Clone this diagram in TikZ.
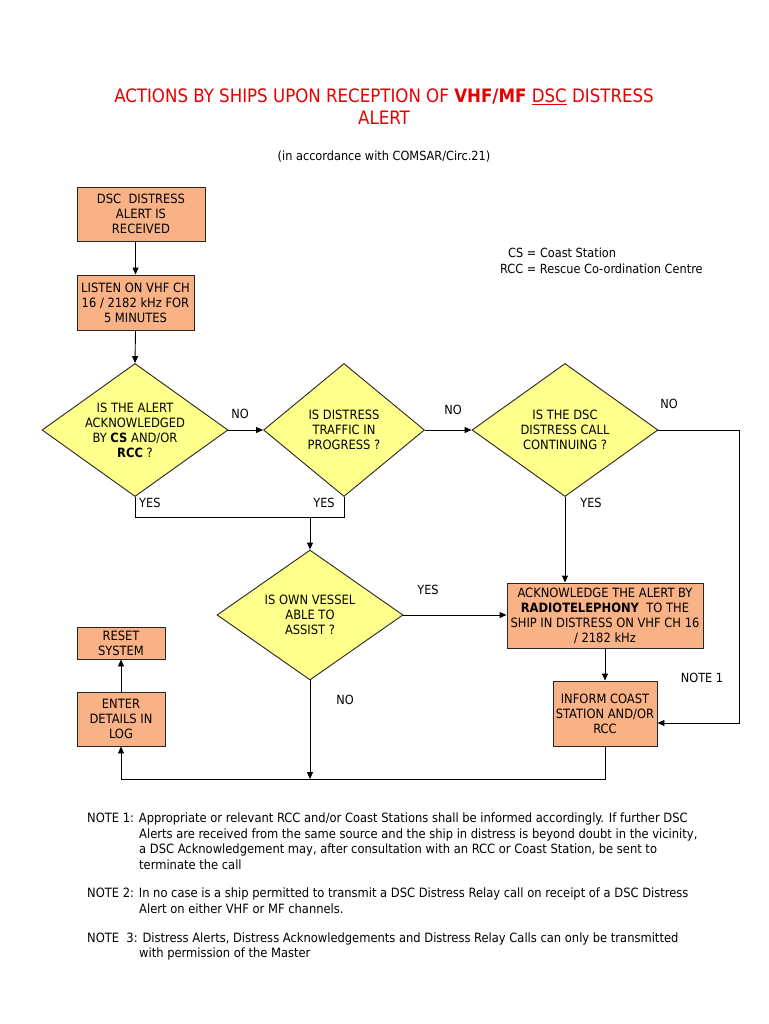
\documentclass[tikz,border=0pt]{standalone}
\usepackage{fontspec}
\setmainfont{DejaVu Sans Condensed}
\usetikzlibrary{shapes.geometric,arrows.meta}
\definecolor{boxfill}{RGB}{248,178,134}
\definecolor{dfill}{RGB}{255,255,140}
\definecolor{titlered}{RGB}{232,0,0}
\begin{document}
\begin{tikzpicture}[x=1pt,y=-1pt,
  proc/.style={draw=black!85, fill=boxfill, line width=0.9pt, align=center, inner sep=0pt,
    font=\fontsize{12.8}{15}\selectfont},
  dec/.style={draw=black!85, fill=dfill, line width=0.9pt, diamond, aspect=1.4, inner sep=0pt},
  dtxt/.style={inner sep=0pt, align=center, font=\fontsize{12.8}{15}\selectfont},
  lbl/.style={inner sep=0pt, font=\fontsize{12.6}{14}\selectfont},
  notetxt/.style={inner sep=0pt, anchor=base west, font=\fontsize{12.8}{14}\selectfont},
  conn/.style={line width=0.9pt, black},
  arr/.style={conn, -{Triangle[length=7pt,width=6pt]}}
]
\useasboundingbox[fill=white] (0,0) rectangle (768,1024);

% title
\node[inner sep=0pt, align=center, text=titlered, font=\fontsize{18.5}{22}\selectfont] (title) at (384,107)
  {ACTIONS BY SHIPS UPON RECEPTION OF \textbf{VHF/MF} \underline{DSC} DISTRESS\\ALERT};
\node[lbl] (sub) at (384,157) {(in accordance with COMSAR/Circ.21)};

% legend
\node[lbl, anchor=base west] (leg1) at (508,258) {CS = Coast Station};
\node[lbl, anchor=base west] (leg2) at (500,273) {RCC = Rescue Co-ordination Centre};

% boxes
\node[proc, minimum width=128, minimum height=54] (b1) at (141,214) {DSC\ \ DISTRESS\\ALERT IS\\RECEIVED};
\node[proc, minimum width=117, minimum height=55] (b2) at (135.5,302.5) {LISTEN ON VHF CH\\16 / 2182 kHz FOR\\5 MINUTES};

% diamonds
\node[dec, minimum width=186, minimum height=133] (d1) at (135,430) {};
\node[dtxt] (d1t) at (d1.center) {IS THE ALERT\\ACKNOWLEDGED\\BY \textbf{CS} AND/OR\\\textbf{RCC} ?};
\node[dec, minimum width=161, minimum height=133] (d2) at (344,430) {};
\node[dtxt] (d2t) at (d2.center) {IS DISTRESS\\TRAFFIC IN\\PROGRESS ?};
\node[dec, minimum width=186, minimum height=133] (d3) at (565,430) {};
\node[dtxt] (d3t) at (d3.center) {IS THE DSC\\DISTRESS CALL\\CONTINUING ?};
\node[dec, minimum width=186, minimum height=130] (d4) at (310,615) {};
\node[dtxt] (d4t) at (d4.center) {IS OWN VESSEL\\ABLE TO\\ASSIST ?};

% right boxes
\node[proc, minimum width=196, minimum height=65] (ack) at (605,615.5)
  {ACKNOWLEDGE THE ALERT BY\\\textbf{RADIOTELEPHONY}\ \ TO THE\\SHIP IN DISTRESS ON VHF CH 16\\/ 2182 kHz};
\node[proc, minimum width=104, minimum height=65] (inf) at (605,713.5) {INFORM COAST\\STATION AND/OR\\RCC};

% left boxes
\node[proc, minimum width=88, minimum height=32] (reset) at (121,643) {RESET\\SYSTEM};
\node[proc, minimum width=88, minimum height=54] (log) at (121,719) {ENTER\\DETAILS IN\\LOG};

% connectors
\draw[arr] (b1.south -| b2.north) -- (b2.north);
\draw[arr] (b2.south) -- (d1.north);
\draw[arr] (d1.east) -- (d2.west);
\draw[arr] (d2.east) -- (d3.west);
\coordinate (j1) at (135,517);
\draw[conn] (d1.south) -- (j1) -| (d2.south);
\draw[arr] (d4.north |- j1) -- (d4.north);
\draw[arr] (d3.south) -- (d3.south |- ack.north);
\draw[arr] (d4.east) -- (d4.east -| ack.west);
\draw[arr] (ack.south) -- (inf.north);
\coordinate (rr) at (739,430);
\draw[arr] (d3.east) -- (rr) |- (inf.east |- 0,723);
\coordinate (j2) at (605,779);
\draw[arr] (inf.south) -- (j2) -| (log.south);
\draw[arr] (d4.south) -- (d4.south |- j2);
\draw[arr] (log.north) -- (reset.south);

% branch labels
\node[lbl] (n1) at (240,414) {NO};
\node[lbl] (n2) at (453,410) {NO};
\node[lbl] (n3) at (669,404) {NO};
\node[lbl, anchor=west] (y1) at (139,503) {YES};
\node[lbl] (y2) at (324,503) {YES};
\node[lbl] (y3) at (591,503) {YES};
\node[lbl] (y4) at (428,590) {YES};
\node[lbl] (n4) at (345,700) {NO};
\node[lbl] (note1lbl) at (702,678) {NOTE 1};

% notes
\node[notetxt] (na1) at (87,822) {NOTE 1: Appropriate or relevant RCC and/or Coast Stations shall be informed accordingly. If further DSC};
\node[notetxt] (na2) at (139,838) {Alerts are received from the same source and the ship in distress is beyond doubt in the vicinity,};
\node[notetxt] (na3) at (139,853) {a DSC Acknowledgement may, after consultation with an RCC or Coast Station, be sent to};
\node[notetxt] (na4) at (139,869) {terminate the call};
\node[notetxt] (nb1) at (87,897) {NOTE 2: In no case is a ship permitted to transmit a DSC Distress Relay call on receipt of a DSC Distress};
\node[notetxt] (nb2) at (139,913) {Alert on either VHF or MF channels.};
\node[notetxt] (nc1) at (87,942) {NOTE\ \ 3: Distress Alerts, Distress Acknowledgements and Distress Relay Calls can only be transmitted};
\node[notetxt] (nc2) at (139,957) {with permission of the Master};
\end{tikzpicture}
\end{document}
